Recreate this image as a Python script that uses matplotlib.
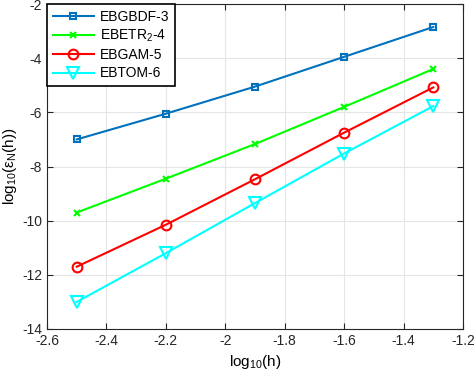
import matplotlib
matplotlib.use("Agg")
import matplotlib.pyplot as plt

plt.rcParams['font.family'] = ['Liberation Sans', 'DejaVu Sans']
plt.rcParams['mathtext.fontset'] = 'custom'
plt.rcParams['mathtext.rm'] = 'Liberation Sans'
plt.rcParams['mathtext.it'] = 'Liberation Sans'

logh = [-2.5, -2.2, -1.9, -1.6, -1.3]
ebgbdf3 = [-7.0, -6.05, -5.05, -3.95, -2.85]
ebetr24 = [-9.7, -8.45, -7.17, -5.8, -4.4]
ebgam5 = [-11.7, -10.15, -8.47, -6.75, -5.08]
ebtom6 = [-13.0, -11.2, -9.35, -7.52, -5.77]

labels = ["EBGBDF-3", "EBETR$_2$-4", "EBGAM-5", "EBTOM-6"]
series = [ebgbdf3, ebetr24, ebgam5, ebtom6]
colors = ["#0072bd", "#00ff00", "#ff0000", "#00ffff"]
markers = ["s", "x", "o", "v"]
msizes = [5, 5, 7, 8]

fig = plt.figure(figsize=(4.74, 3.74), dpi=100)
ax = fig.add_axes([47/474, 45/374, 416/474, 325/374])

for vals, lab, c, m, ms in zip(series, labels, colors, markers, msizes):
	ax.plot(logh, vals, color=c, marker=m, markersize=ms, markerfacecolor="none",
		markeredgewidth=1.5, linewidth=1.5, label=lab)

ax.set_xlim(-2.6, -1.2)
ax.set_ylim(-14, -2)
ax.set_xticks([-2.6, -2.4, -2.2, -2, -1.8, -1.6, -1.4, -1.2])
ax.set_xticklabels(["-2.6", "-2.4", "-2.2", "-2", "-1.8", "-1.6", "-1.4", "-1.2"])
ax.set_yticks([-14, -12, -10, -8, -6, -4, -2])
ax.set_yticklabels(["-14", "-12", "-10", "-8", "-6", "-4", "-2"])
ax.tick_params(direction="in", top=True, right=True, labelsize=10, length=4, colors="#262626")
ax.grid(True, color="#e6e6e6", linewidth=0.8)
ax.set_axisbelow(True)
for s in ax.spines.values():
	s.set_color("#262626")
ax.set_xlabel("log$_{10}$(h)", fontsize=11)
ax.set_ylabel("log$_{10}$($\\epsilon_N$(h))", fontsize=11, labelpad=2)

leg = ax.legend(loc="upper left", fontsize=10, fancybox=False, framealpha=1,
	edgecolor="black", borderaxespad=0, handlelength=3, handletextpad=0.4,
	borderpad=0.4, labelspacing=0.3)
leg.get_frame().set_linewidth(1.2)

fig.savefig("out.png", dpi=100)
